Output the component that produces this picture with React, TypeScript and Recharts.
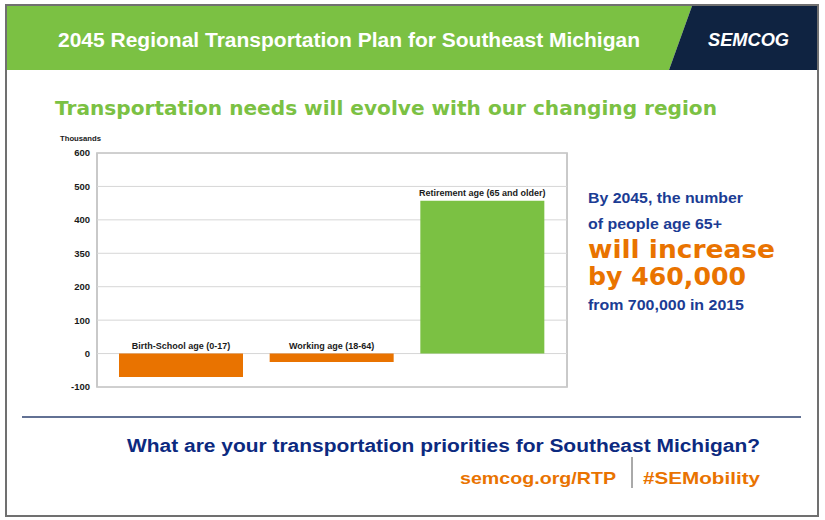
import React from "react";
import { BarChart, Bar, XAxis, YAxis, CartesianGrid, Cell, LabelList } from "recharts";

const categories = ["Birth-School age (0-17)", "Working age (18-64)", "Retirement age (65 and older)"];
const changeThousands = [-70, -25, 457];
const barColors = ["#E97300", "#E97300", "#7BC143"];
const tickValues = [-100, 0, 100, 200, 300, 400, 500, 600];
const tickLabels = ["-100", "0", "100", "200", "350", "400", "500", "600"];

const data = categories.map((c, i) => ({ name: c, value: changeThousands[i] }));

const F = "'Liberation Sans', Arial, sans-serif";
const FW = "'DejaVu Sans', 'Liberation Sans', sans-serif";

const BarLabel = (props: any) => {
  const { x, y, width, height, value } = props;
  const top = Math.min(y, y + height);
  return (
    <text x={x + width / 2} y={top - 5} textAnchor="middle" fontFamily={F} fontWeight="bold" fontSize={9} fill="#1a1a1a">
      {value}
    </text>
  );
};

export default function App() {
  return (
    <div style={{ position: "absolute", left: 0, top: 0, width: 825, height: 520, background: "#fff" }}>
      <svg width={825} height={520} style={{ position: "absolute", left: 0, top: 0 }}>
        <rect x={0} y={0} width={825} height={520} fill="#fff" />
        <polygon points="6,6 692,6 669,70 6,70" fill="#7BC143" />
        <polygon points="692,6 818,6 818,70 669,70" fill="#0F2341" />
        <rect x={6} y={5} width={812} height={511} fill="none" stroke="#707070" strokeWidth={2} />
        <text x={58} y={47} fontFamily={F} fontWeight="bold" fontSize={20} fill="#fff" textLength={582} lengthAdjust="spacingAndGlyphs">
          2045 Regional Transportation Plan for Southeast Michigan
        </text>
        <text x={708} y={46} fontFamily={F} fontWeight="bold" fontStyle="italic" fontSize={18} fill="#fff" textLength={81} lengthAdjust="spacingAndGlyphs">
          SEMCOG
        </text>
        <text x={55} y={115} fontFamily={FW} fontWeight="bold" fontSize={19} fill="#7BC143" textLength={662} lengthAdjust="spacingAndGlyphs">
          Transportation needs will evolve with our changing region
        </text>
        <text x={60} y={141} fontFamily={F} fontWeight="bold" fontSize={8} fill="#1a1a1a" textLength={41} lengthAdjust="spacingAndGlyphs">
          Thousands
        </text>
        <rect x={97} y={153} width={470} height={234} fill="none" stroke="#b8b8b8" strokeWidth={1.5} />

        <text x={588} y={203} fontFamily={F} fontWeight="bold" fontSize={15} fill="#1B3C94" textLength={155} lengthAdjust="spacingAndGlyphs">
          By 2045, the number
        </text>
        <text x={588} y={229} fontFamily={F} fontWeight="bold" fontSize={15} fill="#1B3C94" textLength={134} lengthAdjust="spacingAndGlyphs">
          of people age 65+
        </text>
        <text x={588} y={258} fontFamily={FW} fontWeight="bold" fontSize={24} fill="#E97300" textLength={187} lengthAdjust="spacingAndGlyphs">
          will increase
        </text>
        <text x={588} y={285} fontFamily={FW} fontWeight="bold" fontSize={24} fill="#E97300" textLength={158} lengthAdjust="spacingAndGlyphs">
          by 460,000
        </text>
        <text x={588} y={310} fontFamily={F} fontWeight="bold" fontSize={15} fill="#1B3C94" textLength={156} lengthAdjust="spacingAndGlyphs">
          from 700,000 in 2015
        </text>

        <line x1={22} y1={417} x2={801} y2={417} stroke="#2E4270" strokeWidth={1.5} />
        <text x={127} y={452} fontFamily={F} fontWeight="bold" fontSize={18} fill="#0C2A80" textLength={633} lengthAdjust="spacingAndGlyphs">
          What are your transportation priorities for Southeast Michigan?
        </text>
        <text x={460} y={484} fontFamily={F} fontWeight="bold" fontSize={17} fill="#E97300" textLength={156} lengthAdjust="spacingAndGlyphs">
          semcog.org/RTP
        </text>
        <line x1={632} y1={457} x2={632} y2={488} stroke="#555" strokeWidth={1} />
        <text x={643} y={484} fontFamily={F} fontWeight="bold" fontSize={17} fill="#E97300" textLength={117} lengthAdjust="spacingAndGlyphs">
          #SEMobility
        </text>
      </svg>
      <div style={{ position: "absolute", left: 0, top: 0 }}>
        <BarChart width={825} height={520} data={data} margin={{ top: 153, right: 258, bottom: 133, left: 37 }} barSize={124}>
          <CartesianGrid vertical={false} stroke="#d6d6d6" />
          <XAxis dataKey="name" hide padding={{ left: 9, right: 9 }} />
          <YAxis
            width={60}
            domain={[-100, 600]}
            ticks={tickValues}
            interval={0}
            axisLine={false}
            tickLine={false}
            tickSize={0}
            tickMargin={7}
            tickFormatter={(v: number) => tickLabels[tickValues.indexOf(v)]}
            tick={{ fontFamily: F, fontWeight: "bold", fontSize: 9.5, fill: "#1a1a1a" }}
          />
          <Bar dataKey="value" isAnimationActive={false}>
            {data.map((d, i) => (
              <Cell key={d.name} fill={barColors[i]} />
            ))}
            <LabelList dataKey="name" content={BarLabel} />
          </Bar>
        </BarChart>
      </div>
    </div>
  );
}
